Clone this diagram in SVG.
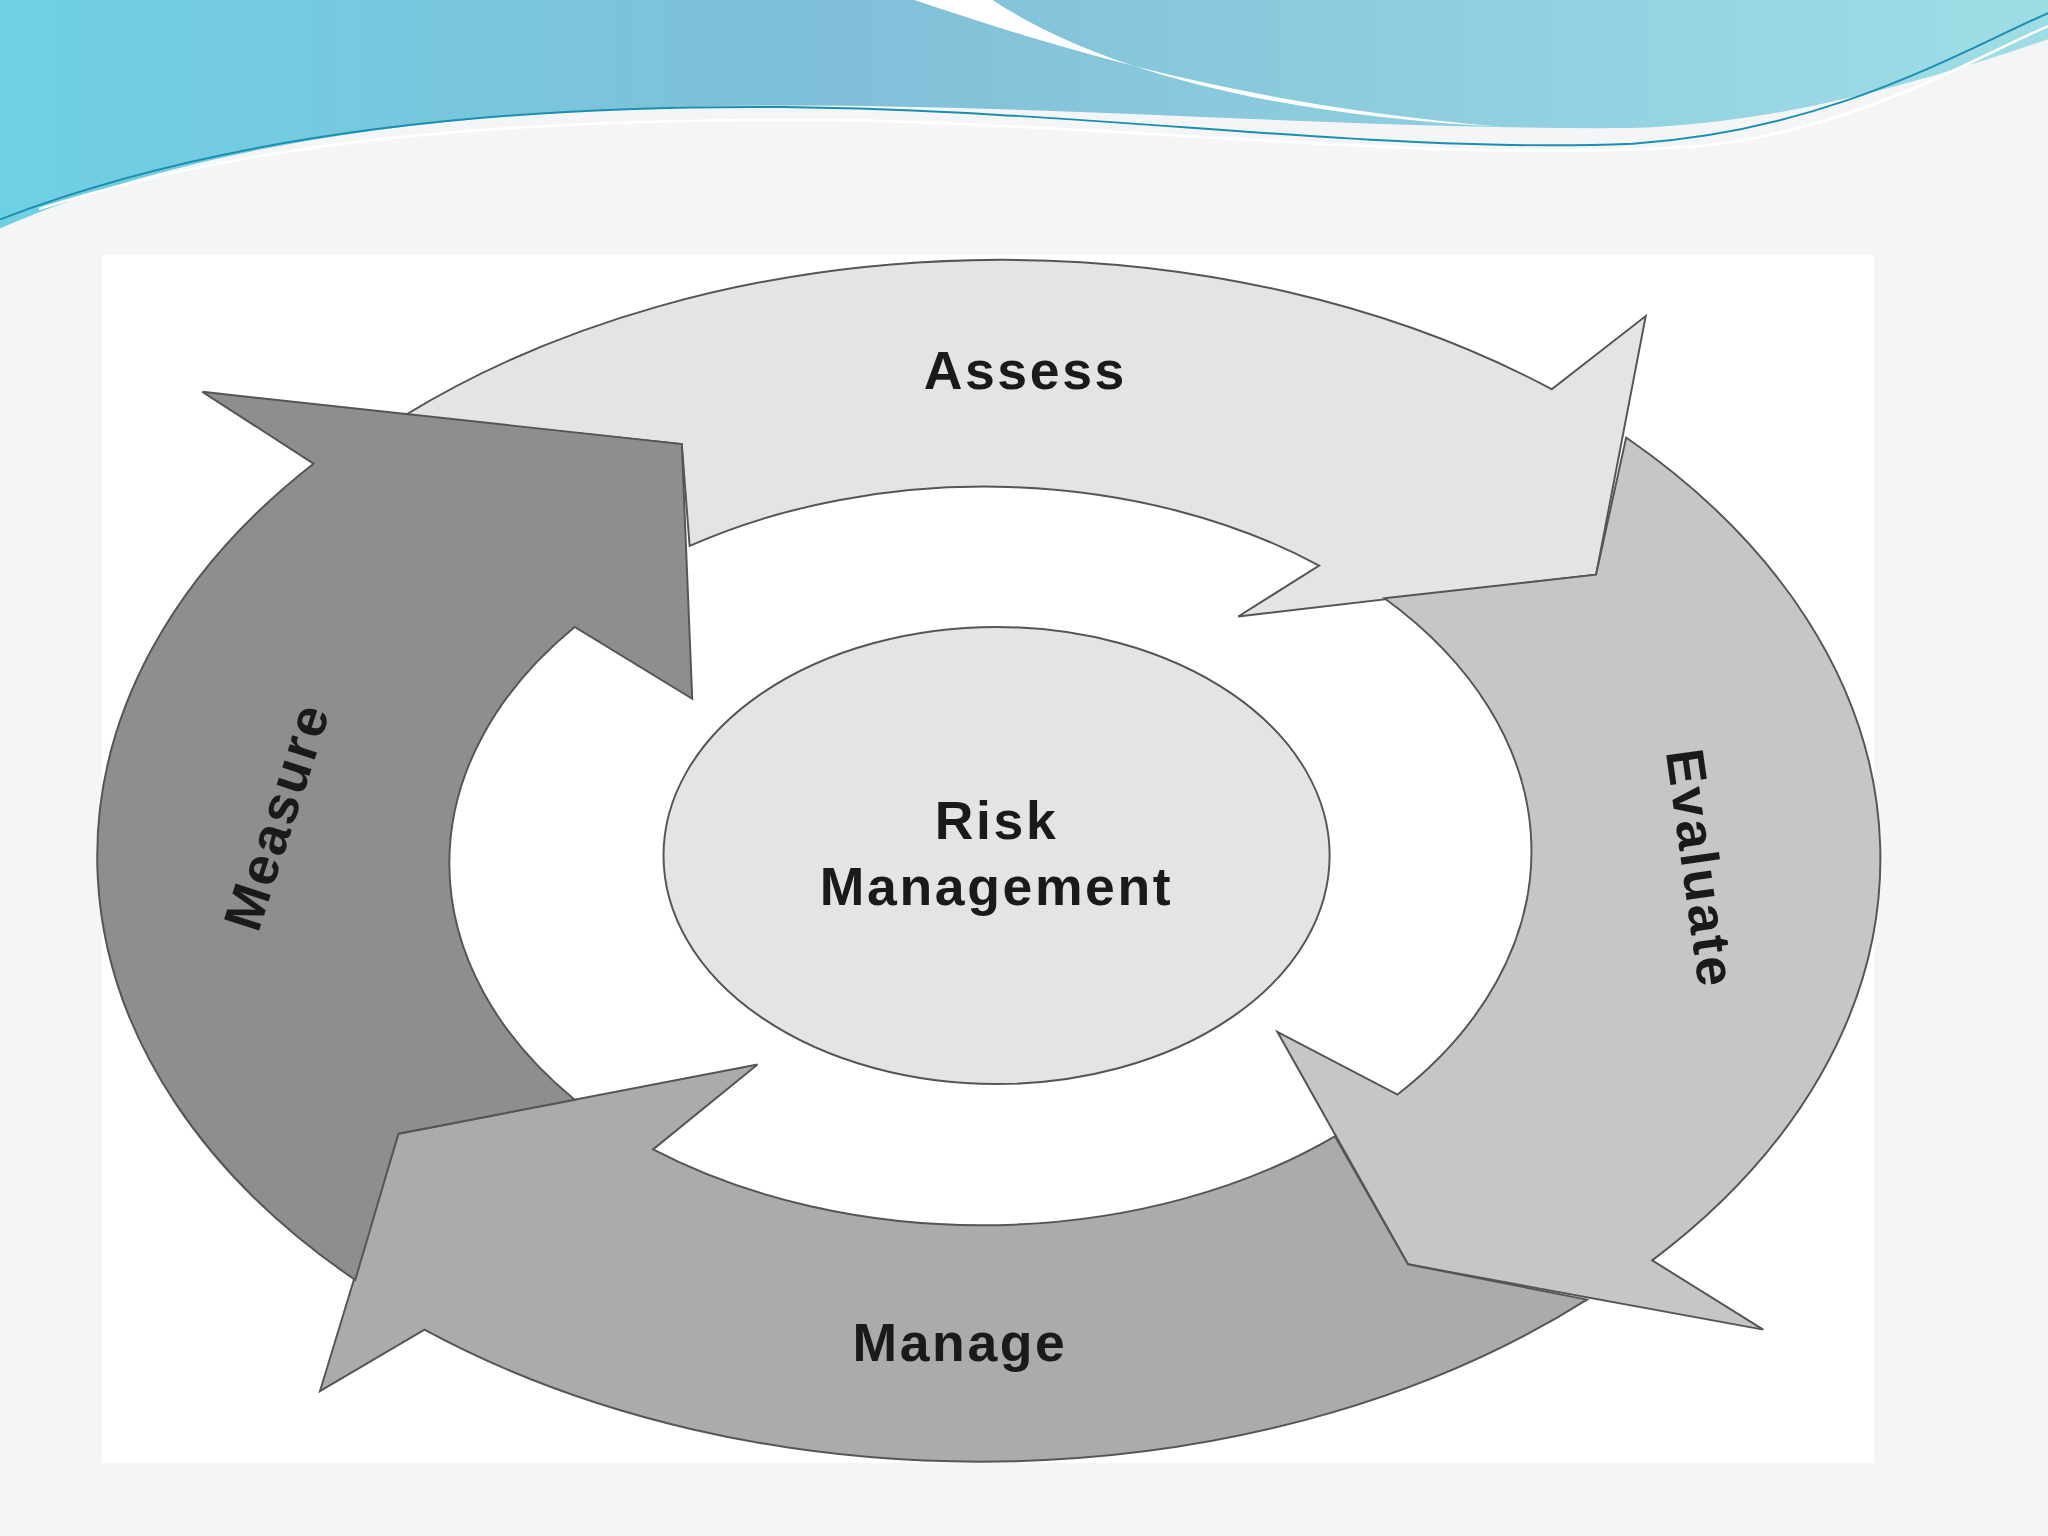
<svg xmlns="http://www.w3.org/2000/svg" width="2048" height="1536" viewBox="0 0 2048 1536">
<defs>
<linearGradient id="wave" x1="0" y1="0" x2="1" y2="0">
<stop offset="0" stop-color="#6fd0e4"/><stop offset="0.4" stop-color="#7fbfd8"/><stop offset="1" stop-color="#9fdde6"/>
</linearGradient>
<style>
.arr{stroke:#555;stroke-width:1.5;stroke-linejoin:miter}
.lbl{font-family:"Liberation Sans",Arial,sans-serif;font-weight:bold;font-size:41px;fill:#1a1a1a;text-anchor:middle;letter-spacing:2px}
</style>
</defs>
<rect width="2048" height="1536" fill="#f3f5f7"/>
<g transform="scale(1.30612)">
<g id="banner">
<path d="M0,0 H1568 V30 C1450,70 1350,95 1250,98 C1000,100 700,70 450,85 C250,95 100,130 0,175 Z" fill="url(#wave)"/>
<path d="M700,0 C820,40 950,80 1150,97 C1000,90 850,60 760,0 Z" fill="#ffffff"/>
<path d="M0,168 C150,110 350,80 600,82 C850,85 1050,118 1250,110 C1400,100 1500,40 1568,10" fill="none" stroke="#1a8fb0" stroke-width="1.5"/>
<path d="M30,160 C200,105 400,90 650,92 C900,98 1100,125 1300,112 C1420,100 1510,45 1568,20" fill="none" stroke="#ffffff" stroke-width="2"/>
</g>
<rect x="78" y="195" width="1357" height="925" fill="#ffffff"/>
<g id="assess">
<path class="arr" fill="#e4e4e4" d="M310,318 L522,340 L528,418 A415,283 0 0 1 1010,433 L948,472 L1222,440 L1260,242 L1188,298 A680,460 0 0 0 310,318 Z"/>
<text class="lbl" x="785" y="298">Assess</text>
</g>
<g id="evaluate">
<path class="arr" fill="#c6c6c6" d="M1060,458 L1222,440 L1245,335 A680,460 0 0 1 1265,965 L1350,1018 L1078,968 L978,790 L1070,838 A415,283 0 0 0 1060,458 Z"/>
<text class="lbl" transform="translate(1302,665) rotate(82)" x="0" y="14">Evaluate</text>
</g>
<g id="manage">
<path class="arr" fill="#ababab" d="M1215,995 L1078,968 L1022,870 A415,283 0 0 1 500,880 L580,815 L305,868 L245,1065 L325,1018 A680,460 0 0 0 1215,995 Z"/>
<text class="lbl" x="735" y="1042">Manage</text>
</g>
<g id="measure">
<path class="arr" fill="#8e8e8e" d="M440,842 L305,868 L272,980 A680,460 0 0 1 240,355 L155,300 L522,340 L530,535 L440,480 A415,283 0 0 0 440,842 Z"/>
<text class="lbl" transform="translate(212,625) rotate(-72)" x="0" y="14">Measure</text>
</g>
<g id="center">
<ellipse cx="763" cy="655" rx="255" ry="175" fill="#e4e4e4" stroke="#555" stroke-width="1.5"/>
<text class="lbl" x="763" y="642">Risk</text>
<text class="lbl" x="763" y="693">Management</text>
</g>
</g>
</svg>
